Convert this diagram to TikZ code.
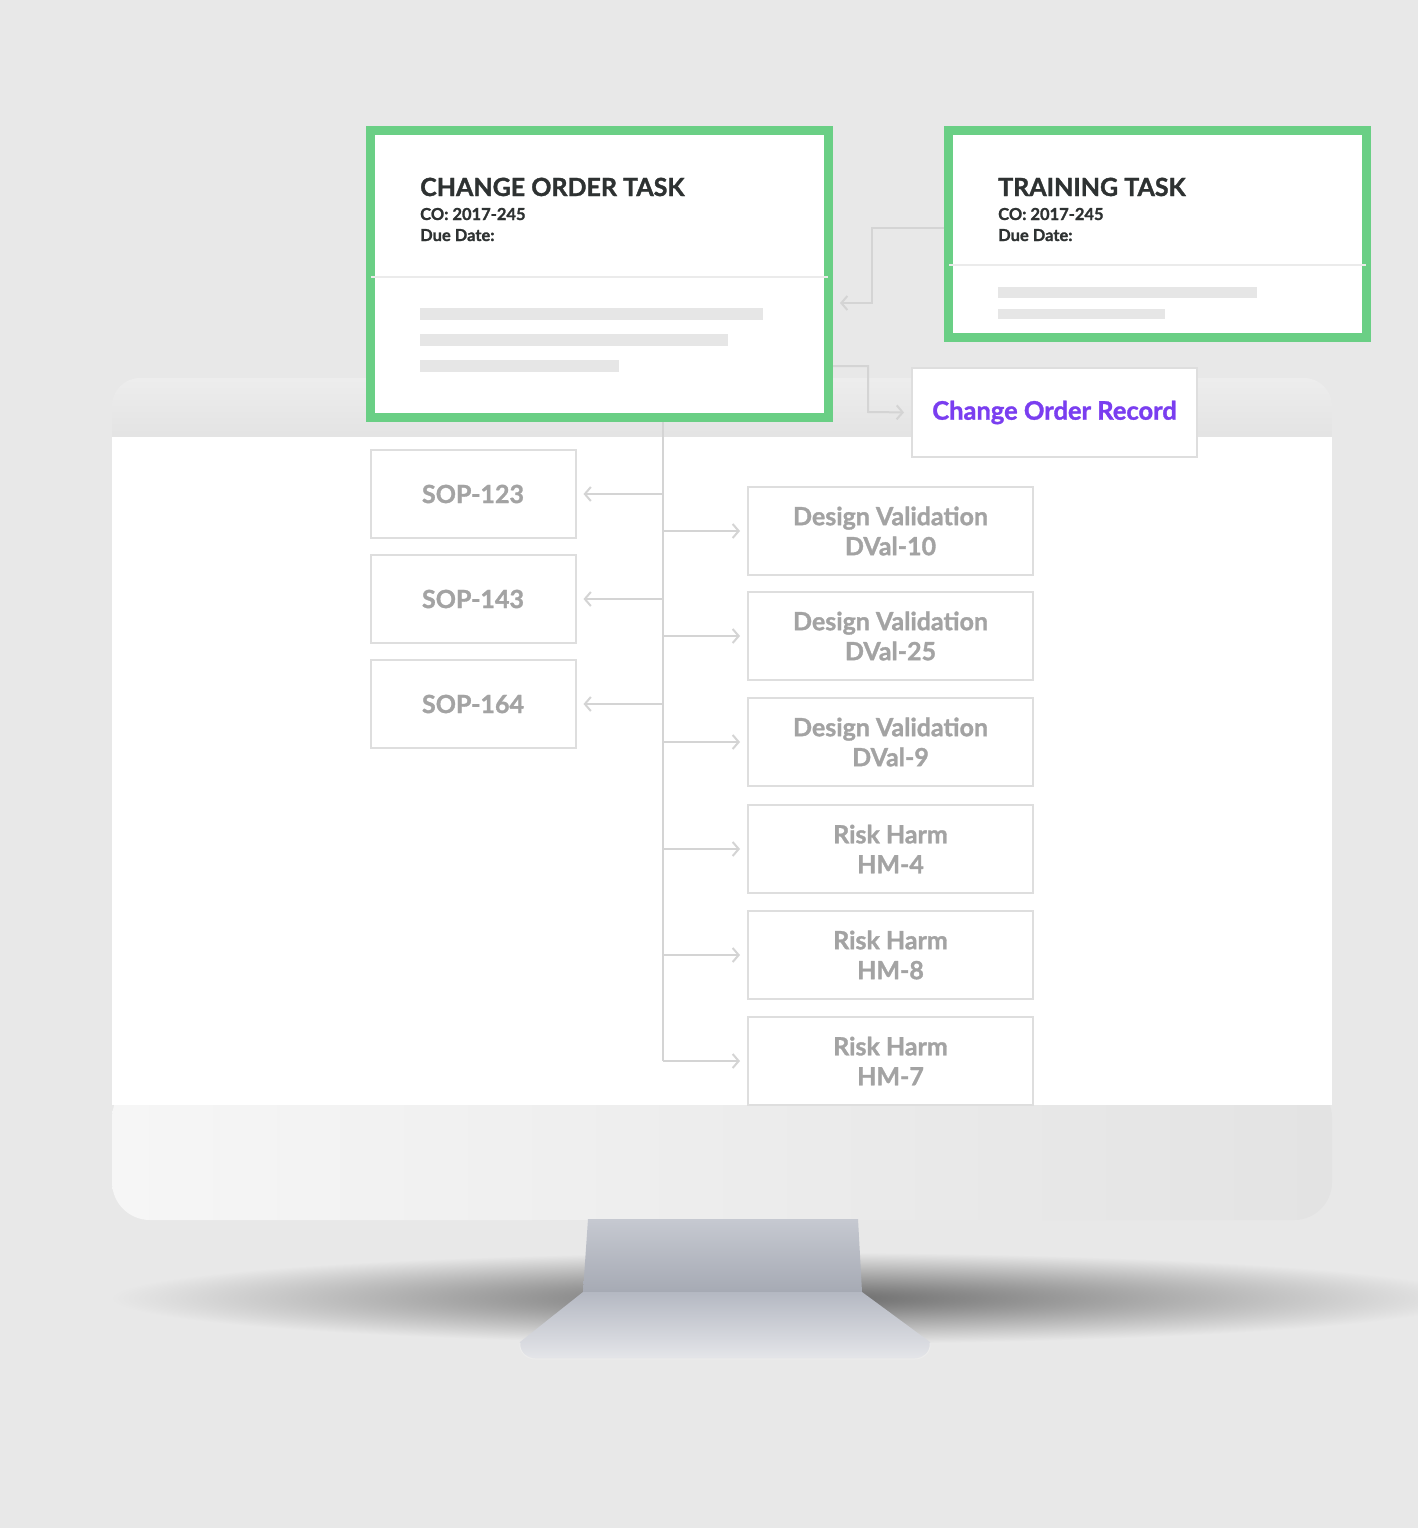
\documentclass[tikz,border=0pt]{standalone}
\usepackage{fontspec}
\setmainfont{Lato}[BoldFeatures={FakeBold=1.3}]
\usetikzlibrary{arrows.meta}
\definecolor{bg}{HTML}{E8E8E8}
\definecolor{grn}{HTML}{6ACF85}
\definecolor{lnc}{HTML}{D4D4D4}
\definecolor{boxc}{HTML}{DEDEDE}
\definecolor{txg}{HTML}{A3A3A3}
\definecolor{dark}{HTML}{2E3232}
\definecolor{purp}{HTML}{7A3EF0}
\definecolor{barc}{HTML}{E6E6E6}
\definecolor{neckA}{HTML}{C6C9D1}
\definecolor{neckB}{HTML}{A6AAB4}
\definecolor{flareA}{HTML}{B4B8C2}
\definecolor{flareB}{HTML}{E4E5E9}
\tikzset{
  taskbox/.style={draw=grn, line width=9pt, fill=white, inner sep=0pt},
  itembox/.style={draw=boxc, line width=2pt, fill=white, inner sep=0pt,
    minimum width=205pt, minimum height=88pt, text=txg, font=\bfseries\fontsize{25}{30}\selectfont, align=center},
  relbox/.style={itembox, minimum width=285pt},
  conn/.style={draw=lnc, line width=2pt},
  arr/.style={conn, -{Straight Barb[length=6pt,width=14pt,line width=2pt]}, shorten >=7pt},
  title/.style={anchor=base west, inner sep=0pt, text=dark, font=\bfseries\fontsize{25}{25}\selectfont},
  small/.style={anchor=base west, inner sep=0pt, text=dark, font=\bfseries\fontsize{16.5}{16.5}\selectfont},
  bar/.style={fill=barc}
}
\begin{document}
\begin{tikzpicture}[x=1pt,y=-1pt]
\fill[bg] (0,0) rectangle (1418,1528);
\useasboundingbox (0,0) rectangle (1418,1528);
% shadow under monitor
\shade[inner color=black!60, outer color=bg] (790,1298) ellipse (680 and 46);
% monitor chin
\shade[left color=white!93!gray, right color=black!11, rounded corners=38pt] (112,1080) rectangle (1332,1220);
% bezel top
\shade[top color=black!7, bottom color=black!13, rounded corners=28pt] (112,378) rectangle (1332,470);
% screen
\fill[white] (112,437) rectangle (1332,1105);
% stand neck
\shade[top color=neckA, bottom color=neckB] (588,1219) -- (858,1219) -- (862,1292) -- (583,1292) -- cycle;
\shade[top color=flareA, bottom color=flareB] (583,1292) -- (862,1292) -- (930,1342) to[out=-80,in=0] (915,1358) -- (535,1358) to[out=180,in=-100] (520,1342) -- cycle;
\draw[white!85!gray, line width=1pt] (520,1343) to[out=-100,in=180] (535,1359) -- (915,1359) to[out=0,in=-80] (930,1343);

% change order task
\node[taskbox, minimum width=458pt, minimum height=287pt] (cot) at (599.5,274) {};
\draw[black!8, line width=1.5pt] (371,277) -- (828,277);
\node[title] (cottitle) at (420,196) {CHANGE ORDER TASK};
\node[small] (coco) at (420,220) {CO: 2017-245};
\node[small] (codue) at (420,241) {Due Date:};
\fill[bar] (420,308) rectangle (763,320);
\fill[bar] (420,334) rectangle (728,346);
\fill[bar] (420,360) rectangle (619,372);

% training task
\node[taskbox, minimum width=418pt, minimum height=207pt] (tt) at (1157.5,234) {};
\draw[black!8, line width=1.5pt] (949,265) -- (1366,265);
\node[title] (tttitle) at (998,196) {TRAINING TASK};
\node[small] (ttco) at (998,220) {CO: 2017-245};
\node[small] (ttdue) at (998,241) {Due Date:};
\fill[bar] (998,287) rectangle (1257,298);
\fill[bar] (998,309) rectangle (1165,319);

% change order record
\node[draw=boxc, line width=2pt, fill=white, minimum width=285pt, minimum height=89pt, inner sep=0pt,
  text=purp, font=\bfseries\fontsize{25.5}{25.5}\selectfont] (cor) at (1054.5,412.5) {Change Order Record};

\draw[arr] (tt.west |- 0,228) -- (872,228) -- (872,303) -- (cot.east |- 0,303);
\draw[arr] (cot.east |- 0,366) -- (868,366) -- (868,412) -- (cor.west);

% items
\node[itembox] (sop1) at (473,494) {SOP-123};
\node[itembox] (sop2) at (473,599) {SOP-143};
\node[itembox] (sop3) at (473,704) {SOP-164};
\node[relbox] (dv10) at (890.5,531) {Design Validation\\DVal-10};
\node[relbox] (dv25) at (890.5,636) {Design Validation\\DVal-25};
\node[relbox] (dv9) at (890.5,742) {Design Validation\\DVal-9};
\node[relbox] (hm4) at (890.5,849) {Risk Harm\\HM-4};
\node[relbox] (hm8) at (890.5,955) {Risk Harm\\HM-8};
\node[relbox] (hm7) at (890.5,1061) {Risk Harm\\HM-7};

\coordinate (trunk) at (663,0);
\draw[conn] (cot.south -| trunk) -- (hm7.west -| trunk);
\foreach \n in {sop1,sop2,sop3}{
  \draw[arr] (\n.east -| trunk) -- (\n.east);
}
\foreach \n in {dv10,dv25,dv9,hm4,hm8,hm7}{
  \draw[arr] (\n.west -| trunk) -- (\n.west);
}
\end{tikzpicture}
\end{document}
